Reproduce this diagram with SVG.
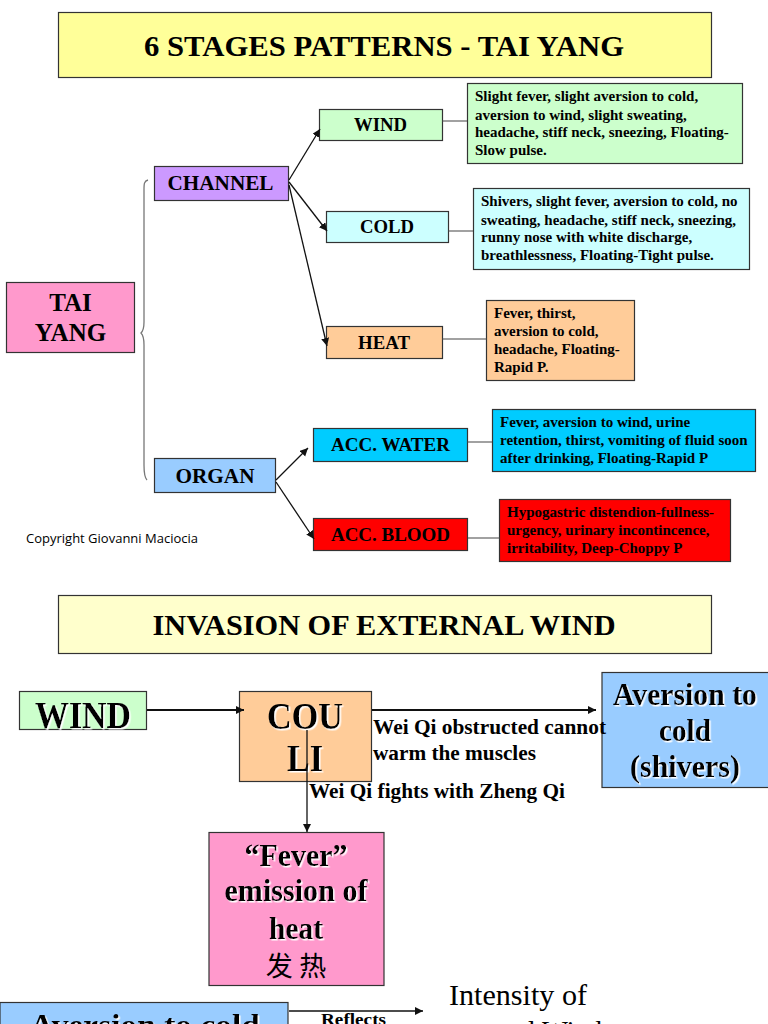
<svg xmlns="http://www.w3.org/2000/svg" width="768" height="1024" viewBox="0 0 768 1024">
<style>
text{font-family:"Liberation Serif","Noto Sans CJK SC",serif;font-weight:bold;fill:#000}
.n{stroke:#333;stroke-width:1.2}
.c{text-anchor:middle}
.d{font-size:15px}
.s{text-anchor:middle;filter:url(#w)}
.l{fill:none;stroke:#111;stroke-width:1.3}
.k{fill:none;stroke:#111;stroke-width:2}
.t{fill:none;stroke:#444;stroke-width:1.2}
.b{fill:none;stroke:#777;stroke-width:1.3}
</style>
<defs>
<marker id="a" markerWidth="9" markerHeight="9" refX="8" refY="4" orient="auto" markerUnits="userSpaceOnUse"><path d="M0 0L8 4L0 8Z" fill="#111"/></marker>
<filter id="w" x="-5%" y="-10%" width="110%" height="125%"><feDropShadow dx="1.5" dy="1.5" stdDeviation="0.6" flood-color="#fff"/></filter>
</defs>
<g id="title1"><rect class="n" x="58.500" y="12.500" width="653" height="65" fill="#ffff99"/><text class="c" x="384" y="56" font-size="30" textLength="480" lengthAdjust="spacingAndGlyphs">6 STAGES PATTERNS - TAI YANG</text></g>
<g id="taiyang"><rect class="n" x="6.500" y="282.500" width="128" height="70" fill="#ff99cc"/><text class="c" x="70.500" y="311" font-size="25">TAI</text><text class="c" x="70.500" y="341" font-size="25">YANG</text></g>
<g id="channel"><rect class="n" x="154.500" y="166.500" width="134" height="34" fill="#cc99ff"/><text class="c" x="220.500" y="190" font-size="21" textLength="106" lengthAdjust="spacingAndGlyphs">CHANNEL</text></g>
<g id="organ"><rect class="n" x="154.500" y="458.500" width="121" height="34" fill="#99ccff"/><text class="c" x="215" y="483" font-size="21" textLength="79" lengthAdjust="spacingAndGlyphs">ORGAN</text></g>
<g id="wind"><rect class="n" x="319.500" y="109.500" width="123" height="31" fill="#ccffcc"/><text class="c" x="380.500" y="131" font-size="18" textLength="53" lengthAdjust="spacingAndGlyphs">WIND</text></g>
<g id="cold"><rect class="n" x="326.500" y="211.500" width="122" height="31" fill="#ccffff"/><text class="c" x="387" y="233" font-size="18" textLength="54" lengthAdjust="spacingAndGlyphs">COLD</text></g>
<g id="heat"><rect class="n" x="326.500" y="326.500" width="116" height="32" fill="#ffcc99"/><text class="c" x="384" y="349" font-size="18" textLength="52" lengthAdjust="spacingAndGlyphs">HEAT</text></g>
<g id="accwater"><rect class="n" x="313.500" y="428.500" width="154" height="33" fill="#00ccff"/><text class="c" x="390.500" y="451" font-size="18" textLength="119" lengthAdjust="spacingAndGlyphs">ACC. WATER</text></g>
<g id="accblood"><rect class="n" x="313.500" y="518.500" width="154" height="32" fill="#ff0000"/><text class="c" x="390.500" y="541" font-size="18" textLength="119" lengthAdjust="spacingAndGlyphs">ACC. BLOOD</text></g>
<g id="d1" class="d"><rect class="n" x="467.500" y="83.500" width="275" height="80" fill="#ccffcc"/><text x="475" y="101">Slight fever, slight aversion to cold,</text><text x="475" y="119.500">aversion to wind, slight sweating,</text><text x="475" y="137">headache, stiff neck, sneezing, Floating-</text><text x="475" y="155">Slow pulse.</text></g>
<g id="d2" class="d"><rect class="n" x="473.500" y="188.500" width="276" height="81" fill="#ccffff"/><text x="481" y="206">Shivers, slight fever, aversion to cold, no</text><text x="481" y="224.500">sweating, headache, stiff neck, sneezing,</text><text x="481" y="242">runny nose with white discharge,</text><text x="481" y="260">breathlessness, Floating-Tight pulse.</text></g>
<g id="d3" class="d"><rect class="n" x="486.500" y="300.500" width="148" height="80" fill="#ffcc99"/><text x="494" y="318">Fever, thirst,</text><text x="494" y="336">aversion to cold,</text><text x="494" y="354">headache, Floating-</text><text x="494" y="372">Rapid P.</text></g>
<g id="d4" class="d"><rect class="n" x="492.500" y="409.500" width="263" height="62" fill="#00ccff"/><text x="500" y="427">Fever, aversion to wind, urine</text><text x="500" y="445">retention, thirst, vomiting of fluid soon</text><text x="500" y="463">after drinking, Floating-Rapid P</text></g>
<g id="d5" class="d"><rect class="n" x="499.500" y="499.500" width="231" height="62" fill="#ff0000"/><text x="507" y="517">Hypogastric distendion-fullness-</text><text x="507" y="535">urgency, urinary incontincence,</text><text x="507" y="553">irritability, Deep-Choppy P</text></g>
<text id="copyright" x="26" y="543" font-size="13" style="font-family:'Open Sans','Noto Sans',sans-serif;font-weight:normal" fill="#222">Copyright Giovanni Maciocia</text>
<g id="title2"><rect class="n" x="58.500" y="595.500" width="653" height="58" fill="#ffffcc"/><text class="c" x="384" y="635" font-size="30" textLength="463" lengthAdjust="spacingAndGlyphs">INVASION OF EXTERNAL WIND</text></g>
<g id="wind2"><rect class="n" x="19.500" y="691.500" width="127" height="38" fill="#ccffcc"/><text class="s" x="83" y="728" font-size="38" textLength="96" lengthAdjust="spacingAndGlyphs">WIND</text></g>
<g id="couli"><rect class="n" x="239.500" y="691.500" width="132" height="90" fill="#ffcc99"/><text class="s" x="305" y="729" font-size="38" textLength="76" lengthAdjust="spacingAndGlyphs">COU</text><text class="s" x="305" y="771" font-size="38" textLength="36" lengthAdjust="spacingAndGlyphs">LI</text></g>
<g id="aversion"><rect class="n" x="602" y="672.500" width="170" height="115" fill="#99ccff"/><text class="s" x="685" y="705" font-size="31" textLength="144" lengthAdjust="spacingAndGlyphs">Aversion to</text><text class="s" x="685" y="741" font-size="31" textLength="52" lengthAdjust="spacingAndGlyphs">cold</text><text class="s" x="685" y="777" font-size="31" textLength="110" lengthAdjust="spacingAndGlyphs">(shivers)</text></g>
<g id="fever"><rect class="n" x="209" y="832.500" width="175" height="153" fill="#ff99cc"/><text class="s" x="296" y="866" font-size="31" textLength="103" lengthAdjust="spacingAndGlyphs">“Fever”</text><text class="s" x="296" y="901" font-size="31" textLength="143" lengthAdjust="spacingAndGlyphs">emission of</text><text class="s" x="296" y="939" font-size="31" textLength="54" lengthAdjust="spacingAndGlyphs">heat</text><text class="c" x="296" y="976" font-size="27" style="font-weight:normal">发 热</text></g>
<g id="aversion2"><rect class="n" x="0" y="1002.500" width="288" height="40" fill="#99ccff"/><text class="s" x="145" y="1036" font-size="31" textLength="230" lengthAdjust="spacingAndGlyphs">Aversion to cold</text></g>
<g id="connectors">
<path class="b" d="M148 180C144 181 144 184 144 190V322C144 329 143 331 141 333C143 335 144 338 144 345V465C144 473 145 478 147 480"/>
<path class="l" marker-end="url(#a)" d="M289 180L320 129"/>
<path class="l" marker-end="url(#a)" d="M289 182L327 231"/>
<path class="l" marker-end="url(#a)" d="M289 185L327 346"/>
<path class="l" marker-end="url(#a)" d="M276 480L308 448"/>
<path class="l" marker-end="url(#a)" d="M276 482L314 539"/>
<path class="t" d="M442 121H467M448 231H473M442 339H487M467 442H492M468 538H500"/>
<path class="k" marker-end="url(#a)" d="M147 710H244"/>
<path class="k" marker-end="url(#a)" d="M372 710H596"/>
<path class="l" marker-end="url(#a)" d="M307 730V832"/>
<path class="l" marker-end="url(#a)" d="M289 1011H423"/>
</g>
<g id="labels">
<text x="373" y="734" font-size="20" textLength="233" lengthAdjust="spacingAndGlyphs">Wei Qi obstructed cannot</text>
<text x="373" y="760" font-size="20" textLength="163" lengthAdjust="spacingAndGlyphs">warm the muscles</text>
<text x="309" y="798" font-size="20" textLength="256" lengthAdjust="spacingAndGlyphs">Wei Qi fights with Zheng Qi</text>
<text x="321" y="1025" font-size="16" textLength="65" lengthAdjust="spacingAndGlyphs">Reflects</text>
<text x="449" y="1005" font-size="30" style="font-weight:normal" textLength="138" lengthAdjust="spacingAndGlyphs">Intensity of</text>
<text x="447" y="1041" font-size="30" style="font-weight:normal" textLength="155" lengthAdjust="spacingAndGlyphs">external Wind</text>
</g>
</svg>
